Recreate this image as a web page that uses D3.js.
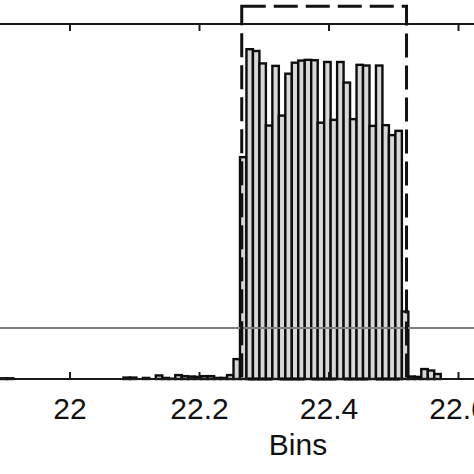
<!DOCTYPE html>
<html>
<head>
<meta charset="utf-8">
<script src="https://cdn.jsdelivr.net/npm/d3@7"></script>
<style>
  html, body { margin: 0; padding: 0; background: #fff; }
  svg { display: block; }
</style>
</head>
<body>
<div id="chart"></div>
<script>
// histogram bins: left edge of first bin, bin width, counts per bin
var binStart = 21.8933;
var binWidth = 0.01;
var counts = [
  2, 2, 0, 0, 0, 0, 0, 0, 0, 0,
  0, 0, 0, 0, 0, 0, 0, 0, 0, 4,
  4, 0, 3, 0, 10, 3, 1, 11, 8, 7,
  6, 8, 8, 3, 3, 11, 56,
  625, 929, 924, 889, 714, 882, 742, 860, 891, 897,
  899, 898, 722, 893, 730, 893, 835, 732, 885, 883,
  713, 883, 715, 687, 699, 190,
  7, 6, 28, 24, 14
];
var tickValues = [22, 22.2, 22.4, 22.6];
var xLabel = "Bins";
var refLevel = 144;            // grey horizontal reference line
var boxRange = [22.266, 22.5205]; // dashed selection window
var boxTop = 1050;

var w = 474, h = 474;
var x = d3.scaleLinear().domain([22, 22.6]).range([69.5, 458]);
var y = d3.scaleLinear().domain([0, 1000]).range([379, 24]);

var bins = counts.map(function (c, i) {
  return { x0: binStart + i * binWidth, x1: binStart + (i + 1) * binWidth, n: c };
}).filter(function (d) { return d.n > 0; });

var mysvg = d3.select("#chart").append("svg").attr("width", w).attr("height", h);

mysvg.append("g").selectAll("rect")
  .data(bins)
  .enter().append("rect")
  .attr("x", function (d) { return x(d.x0); })
  .attr("width", function (d) { return x(d.x1) - x(d.x0); })
  .attr("y", function (d) { return y(d.n); })
  .attr("height", function (d) { return y(0) - y(d.n); })
  .attr("fill", "#d8d8d8")
  .attr("stroke", "#0d0d0d")
  .attr("stroke-width", 2.4);

// grey reference line
mysvg.append("line")
  .attr("x1", 0).attr("x2", w)
  .attr("y1", y(refLevel)).attr("y2", y(refLevel))
  .attr("stroke", "#808080").attr("stroke-width", 2);

// frame lines top and bottom
[0, 1000].forEach(function (v) {
  mysvg.append("line")
    .attr("x1", 0).attr("x2", w)
    .attr("y1", y(v)).attr("y2", y(v))
    .attr("stroke", "#1a1a1a").attr("stroke-width", 2.2);
});

var fmt = function (d) { return String(+d.toFixed(1)); };

var xAxis = mysvg.append("g")
  .attr("transform", "translate(0," + y(0) + ")")
  .call(d3.axisBottom(x).tickValues(tickValues).tickSizeInner(-7).tickSizeOuter(0).tickPadding(19).tickFormat(fmt));
xAxis.select(".domain").remove();
xAxis.selectAll(".tick line").attr("stroke", "#1a1a1a").attr("stroke-width", 2);
xAxis.selectAll(".tick text")
  .attr("fill", "#111")
  .style("font-family", "'Liberation Sans', Arial, Helvetica, sans-serif")
  .style("font-size", "30px");

var topAxis = mysvg.append("g")
  .attr("transform", "translate(0," + y(1000) + ")")
  .call(d3.axisTop(x).tickValues(tickValues).tickSizeInner(-7).tickSizeOuter(0).tickFormat(""));
topAxis.select(".domain").remove();
topAxis.selectAll(".tick line").attr("stroke", "#1a1a1a").attr("stroke-width", 2);

// dashed window
mysvg.append("rect")
  .attr("x", x(boxRange[0]))
  .attr("y", y(boxTop))
  .attr("width", x(boxRange[1]) - x(boxRange[0]))
  .attr("height", y(0) - y(boxTop))
  .attr("fill", "none")
  .attr("stroke", "#111")
  .attr("stroke-width", 3)
  .attr("stroke-dasharray", "24,8");

mysvg.append("text")
  .attr("x", 298)
  .attr("y", 455)
  .attr("text-anchor", "middle")
  .attr("fill", "#111")
  .style("font-family", "'Liberation Sans', Arial, Helvetica, sans-serif")
  .style("font-size", "30px")
  .text(xLabel);
</script>
</body>
</html>
